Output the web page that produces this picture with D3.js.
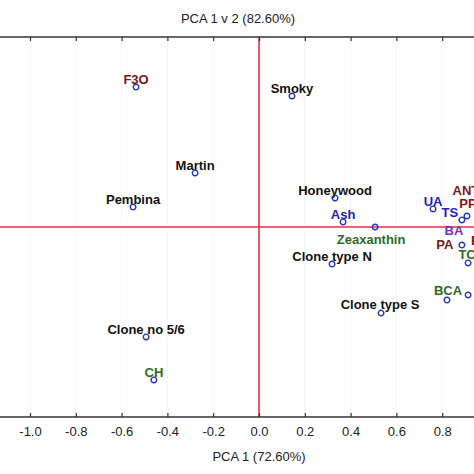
<!DOCTYPE html>
<html>
<head>
<meta charset="utf-8">
<script src="https://cdn.jsdelivr.net/npm/d3@7"></script>
<style>
	body { margin: 0; background: #fff; }
	text { font-family: 'Liberation Sans', Arial, sans-serif; }
</style>
</head>
<body>
<div id="canvas"></div>
<script>
// PCA loadings / scores
const names = ['F3O', 'Smoky', 'Martin', 'Pembina', 'Honeywood', 'Ash', 'Zeaxanthin', 'Clone type N',
	'UA', 'TS', 'PP', 'ANT', 'BA', 'PA', 'EC', 'TC', 'BCA', 'FA', 'Clone type S', 'Clone no 5/6', 'CH'];
const pc1 = [-0.537, 0.144, -0.279, -0.550, 0.332, 0.367, 0.507, 0.319,
	0.760, 0.886, 0.908, 0.956, 0.965, 0.886, 0.987, 0.913, 0.821, 0.913, 0.533, -0.493, -0.459];
const pc2 = [0.611, 0.572, 0.236, 0.087, 0.127, 0.022, 0.0, -0.162,
	0.079, 0.031, 0.048, 0.118, -0.022, -0.079, -0.100, -0.157, -0.319, -0.297, -0.376, -0.480, -0.668];
const groups = ['phenol', 'sample', 'sample', 'sample', 'sample', 'acid', 'carot', 'sample',
	'acid', 'acid', 'phenol', 'phenol', 'benz', 'phenol', 'phenol', 'carot', 'carot', 'carot', 'sample', 'sample', 'carot'];
const xTicks = [-1.0, -0.8, -0.6, -0.4, -0.2, 0.0, 0.2, 0.4, 0.6, 0.8];

// label nudges (px) for the crowded right side
const nudge = {
	'Zeaxanthin': [-4, 17], 'TS': [-12, -3], 'PP': [1, -8], 'ANT': [-12, -5], 'BA': [-26, 3],
	'PA': [-17, 4], 'EC': [-5, -5], 'TC': [-1, -4], 'BCA': [1, -5], 'FA': [34, -4], 'Clone type S': [-1, -4]
};

const colors = { sample: '#111', phenol: '#7d1616', acid: '#2323b4', benz: '#7b2fc4', carot: '#2f6b1f' };

const points = names.map((n, i) => ({ name: n, x: pc1[i], y: pc2[i], g: groups[i] }));

const W = 474, H = 474;
const x = d3.scaleLinear().domain([-1, 1]).range([30, 488]);
const y = d3.scaleLinear().domain([-1, 1]).range([456, -2]);
const yTop = 37, yBot = 417;

const svg = d3.select('#canvas').append('svg')
	.attr('width', W).attr('height', H)
	.attr('viewBox', [0, 0, W, H]);

// faint grid
svg.append('g')
	.selectAll('line')
	.data(xTicks)
	.join('line')
	.attr('x1', d => x(d)).attr('x2', d => x(d))
	.attr('y1', yTop).attr('y2', yBot)
	.style('stroke', '#f6f6f6');

// reference lines
svg.append('line')
	.attr('x1', x(0)).attr('x2', x(0)).attr('y1', yTop).attr('y2', yBot)
	.style('stroke', '#e2304b').style('stroke-width', 1.6);
svg.append('line')
	.attr('x1', 0).attr('x2', W).attr('y1', y(0)).attr('y2', y(0))
	.style('stroke', '#e2304b').style('stroke-width', 1.6);

// axes
const axBottom = svg.append('g')
	.attr('transform', `translate(0,${yBot})`)
	.call(d3.axisBottom(x).tickValues(xTicks).tickFormat(d3.format('.1f')).tickSizeInner(-4).tickSizeOuter(0).tickPadding(10));
const axTop = svg.append('g')
	.attr('transform', `translate(0,${yTop})`)
	.call(d3.axisTop(x).tickValues(xTicks).tickFormat('').tickSizeInner(-4).tickSizeOuter(0));
[axBottom, axTop].forEach(g => {
	g.select('.domain').attr('d', `M0,0H${W}`).style('stroke', '#333').style('stroke-width', 1.5);
	g.selectAll('.tick line').style('stroke', '#333').style('stroke-width', 1.2);
});
axBottom.selectAll('.tick text')
	.style('font-size', '13px').style('fill', '#222')
	.text(d => d3.format('.1f')(d).replace('−', '-'));

svg.append('text')
	.attr('x', x(0)).attr('y', 461)
	.attr('text-anchor', 'middle')
	.style('font-size', '13px').style('fill', '#222')
	.text('PCA 1 (72.60%)');
svg.append('text')
	.attr('x', 238).attr('y', 23)
	.attr('text-anchor', 'middle')
	.style('font-size', '13px').style('fill', '#222')
	.text('PCA 1 v 2 (82.60%)');

// points + labels
const pts = svg.append('g')
	.selectAll('g')
	.data(points)
	.join('g')
	.attr('transform', d => `translate(${x(d.x)},${y(d.y)})`);

pts.append('text')
	.attr('x', d => (nudge[d.name] || [0, -3])[0])
	.attr('y', d => (nudge[d.name] || [0, -3])[1])
	.attr('text-anchor', 'middle')
	.style('font-size', '13px')
	.style('font-weight', 'bold')
	.style('fill', d => colors[d.g])
	.text(d => d.name);

pts.append('circle')
	.attr('r', 2.8)
	.style('fill', 'none')
	.style('stroke', '#2233c0')
	.style('stroke-width', 1.4);
</script>
</body>
</html>
